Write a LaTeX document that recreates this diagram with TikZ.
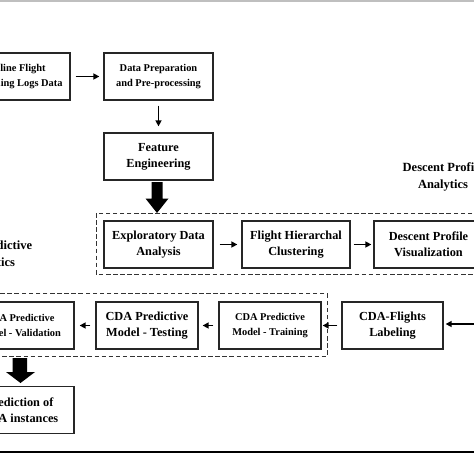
\documentclass[tikz,border=0pt]{standalone}
\usepackage{fontspec}
\setmainfont{Liberation Serif}
\usetikzlibrary{arrows.meta}
\tikzset{
  bx/.style={draw=black!85, line width=1.3pt, minimum width=109pt, minimum height=47pt, align=center, inner sep=0pt, font=\bfseries\fontsize{12.3}{16}\selectfont, fill=white},
  sm/.style={font=\bfseries\fontsize{10.4}{15}\selectfont},
  lbl/.style={align=center, font=\bfseries\fontsize{12.5}{17}\selectfont, inner sep=0pt},
  dbox/.style={draw=black!80, line width=1pt, dash pattern=on 4.5pt off 2.6pt},
  arr/.style={draw=black, line width=1.5pt, -{Triangle[length=6pt,width=6pt]}},
  fat/.style={fill=black, draw=none}
}
\begin{document}
\begin{tikzpicture}[x=1pt,y=-1pt]
\useasboundingbox (0,0) rectangle (474,474);
\clip (0,0) rectangle (474,474);
\fill[white] (0,0) rectangle (474,474);
% frame lines
\draw[black!25, line width=2pt] (0,0.5) -- (474,0.5);
\draw[black, line width=2pt] (0,452) -- (474,452);
% dashed groups
\draw[dbox] (96,213) rectangle (500,274);
\draw[dbox] (-20,293.5) rectangle (327,356.5);
% boxes
\node[bx, sm] (b1) at (15.5,76.5) {Airline Flight\\Recording Logs Data};
\node[bx, sm] (b2) at (158.5,76.5) {Data Preparation\\and Pre-processing};
\node[bx] (b3) at (158.5,156.5) {Feature\\Engineering};
\node[bx] (eda) at (158.5,244.5) {Exploratory Data\\Analysis};
\node[bx, minimum width=108pt] (fhc) at (296,244.5) {Flight Hierarchal\\Clustering};
\node[bx] (dpv) at (428.5,244.5) {Descent Profile\\Visualization};
\node[bx, sm] (val) at (19.5,325.5) {CDA Predictive\\Model - Validation};
\node[bx, minimum width=102pt] (tst) at (147,325.5) {CDA Predictive\\Model - Testing};
\node[bx, sm, minimum width=102pt] (trn) at (270,325.5) {CDA Predictive\\Model - Training};
\node[bx, minimum width=101pt] (lab) at (392.5,325.5) {CDA-Flights\\Labeling};
\node[bx] (pred) at (19.5,410) {Prediction of\\CDA instances};
% labels
\node[lbl] (l1) at (443,176.5) {Descent Profile\\Analytics};
\node[lbl] (l2) at (-10,255) {CDA Predictive\\Analytics};
% thin arrows
\draw[arr, shorten <=5pt, shorten >=4pt] (b1.east) -- (b2.west);
\draw[arr, shorten <=5pt, shorten >=6pt] (b2.south) -- (b3.north);
\draw[arr, shorten <=6pt, shorten >=4pt] (eda.east) -- (fhc.west);
\draw[arr, shorten <=3pt, shorten >=2pt] (fhc.east) -- (dpv.west);
\coordinate (rin) at (490,324);
\draw[arr, shorten >=2pt] (rin) -- (lab.east |- rin);
\draw[arr, shorten <=4pt, shorten >=1pt] (lab.west) -- (trn.east);
\draw[arr, shorten <=5pt, shorten >=4pt] (trn.west) -- (tst.east);
\draw[arr, shorten <=5pt, shorten >=5pt] (tst.west) -- (val.east);
% thick arrows
\fill[fat] (151.5,182) -- (162.5,182) -- (162.5,198.5) -- (168.5,198.5) -- (157,213) -- (145.5,198.5) -- (151.5,198.5) -- cycle;
\fill[fat] (12.5,358) -- (27,358) -- (27,372) -- (35,372) -- (20.5,383) -- (6,372) -- (12.5,372) -- cycle;
\end{tikzpicture}
\end{document}
